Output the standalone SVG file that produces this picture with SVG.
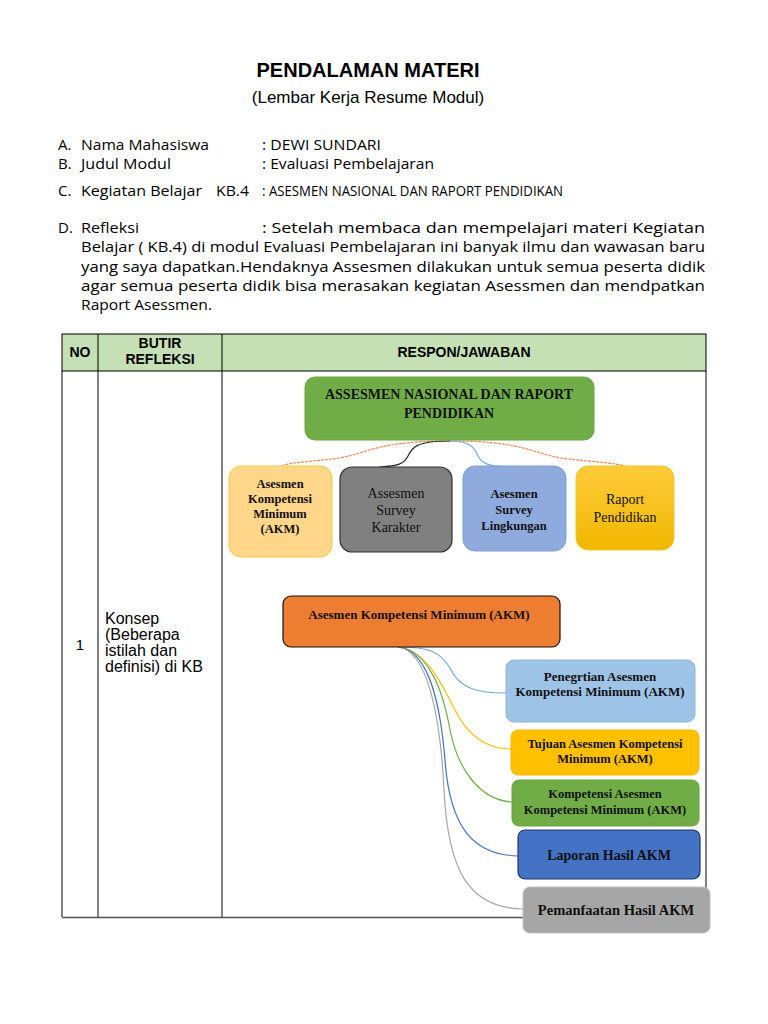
<svg xmlns="http://www.w3.org/2000/svg" width="768" height="1024" viewBox="0 0 768 1024">
<defs>
<style>
.t{font-family:"Liberation Sans",Arial,sans-serif;fill:#000}
.b{font-family:"Open Sans","Liberation Sans",sans-serif;fill:#000;font-size:15px}
.s{font-family:"Liberation Serif","Times New Roman",serif;font-weight:bold;fill:#111;text-anchor:middle}
.n{font-weight:normal}
.h{font-family:"Liberation Sans",Arial,sans-serif;font-weight:bold;font-size:14px;text-anchor:middle}
.c{fill:none;stroke-width:1.2}
</style>
<linearGradient id="gy" x1="0" y1="0" x2="0" y2="1"><stop offset="0" stop-color="#FFCB3A"/><stop offset="1" stop-color="#F0B800"/></linearGradient>
</defs>
<rect width="768" height="1024" fill="#fff"/>
<text class="t" x="368" y="77" font-size="20" font-weight="bold" text-anchor="middle">PENDALAMAN MATERI</text>
<text class="t" x="368" y="103" font-size="17" text-anchor="middle">(Lembar Kerja Resume Modul)</text>

<text class="b" x="58" y="150">A.</text><text class="b" x="81" y="150" textLength="128" lengthAdjust="spacingAndGlyphs">Nama Mahasiswa</text><text class="b" x="262" y="150" textLength="119" lengthAdjust="spacingAndGlyphs">: DEWI SUNDARI</text>
<text class="b" x="58" y="169">B.</text><text class="b" x="81" y="169" textLength="90" lengthAdjust="spacingAndGlyphs">Judul Modul</text><text class="b" x="262" y="169" textLength="172" lengthAdjust="spacingAndGlyphs">: Evaluasi Pembelajaran</text>
<text class="b" x="58" y="196">C.</text><text class="b" x="81" y="196" textLength="121" lengthAdjust="spacingAndGlyphs">Kegiatan Belajar</text><text class="b" x="216" y="196" textLength="33" lengthAdjust="spacingAndGlyphs">KB.4</text><text class="b" x="262" y="196" font-size="12.5" textLength="301" lengthAdjust="spacingAndGlyphs">: ASESMEN NASIONAL DAN RAPORT PENDIDIKAN</text>
<text class="b" x="58" y="233">D.</text><text class="b" x="81" y="233" textLength="58" lengthAdjust="spacingAndGlyphs">Refleksi</text>
<text class="b" x="262" y="233" textLength="443" lengthAdjust="spacingAndGlyphs">: Setelah membaca dan mempelajari materi Kegiatan</text>
<text class="b" x="81" y="252" textLength="624" lengthAdjust="spacingAndGlyphs">Belajar ( KB.4) di modul Evaluasi Pembelajaran ini banyak ilmu dan wawasan baru</text>
<text class="b" x="81" y="272" textLength="624" lengthAdjust="spacingAndGlyphs">yang saya dapatkan.Hendaknya Assesmen dilakukan untuk semua peserta didik</text>
<text class="b" x="81" y="291" textLength="624" lengthAdjust="spacingAndGlyphs">agar semua peserta didik bisa merasakan kegiatan Asessmen dan mendpatkan</text>
<text class="b" x="81" y="310" textLength="131" lengthAdjust="spacingAndGlyphs">Raport Asessmen.</text>

<g id="table">
<rect x="62" y="334" width="644" height="37" fill="#C5E0B4" stroke="#000" stroke-width="1"/>
<line x1="62" y1="371" x2="62" y2="917" stroke="#000"/>
<line x1="98" y1="334" x2="98" y2="917" stroke="#000"/>
<line x1="222" y1="334" x2="222" y2="917" stroke="#000"/>
<line x1="706" y1="371" x2="706" y2="917" stroke="#000"/>
<line x1="62" y1="917.5" x2="706" y2="917.5" stroke="#555" stroke-width="1.5"/>
<text class="h" x="80" y="357">NO</text>
<text class="h" x="160" y="348">BUTIR</text>
<text class="h" x="160" y="364">REFLEKSI</text>
<text class="h" x="464" y="357">RESPON/JAWABAN</text>
<text class="t" x="80" y="650" font-size="15" text-anchor="middle">1</text>
<text class="t" x="105" y="624" font-size="16">Konsep</text>
<text class="t" x="105" y="640" font-size="16">(Beberapa</text>
<text class="t" x="105" y="656" font-size="16">istilah dan</text>
<text class="t" x="105" y="672" font-size="16">definisi) di KB</text>
</g>

<g id="connectors">
<path class="c" d="M450,441 C380,441 370,452 340,458 C310,462 290,462 282,466" stroke="#F4874B" stroke-dasharray="3,1"/>
<path class="c" d="M450,441 C520,441 530,452 560,458 C590,462 610,462 625,466" stroke="#F4874B" stroke-dasharray="3,1"/>
<path class="c" d="M450,441 C415,441 412,448 408,456 C404,464 398,466 380,467" stroke="#222"/>
<path class="c" d="M450,441 C470,441 475,448 478,456 C482,464 490,466 505,467" stroke="#6FA8DC"/>
<path class="c" d="M398,647 C430,647 440,652 450,668 C460,690 480,693 506,693" stroke="#6FA8DC" stroke-width="1"/>
<path class="c" d="M398,647 C425,650 440,680 455,710 C470,740 490,749 511,749" stroke="#FFC000"/>
<path class="c" d="M398,647 C428,650 443,690 450,730 C458,770 480,800 512,802" stroke="#70AD47"/>
<path class="c" d="M398,647 C428,650 440,700 445,760 C450,830 475,855 518,856" stroke="#4472C4"/>
<path class="c" d="M398,647 C426,650 440,710 444,790 C448,870 468,908 523,909" stroke="#A6A6A6" stroke-width="1.8"/>
</g>

<g id="n_root"><rect x="305" y="377" width="289" height="63" rx="10" fill="#70AD47" stroke="#6BA644"/>
<text class="s" x="449" y="399" font-size="14">ASSESMEN NASIONAL DAN RAPORT</text>
<text class="s" x="449" y="418" font-size="14">PENDIDIKAN</text></g>

<g id="n_akm1"><rect x="229" y="466" width="103" height="91" rx="12" fill="#FFD68A" stroke="#FFC940"/>
<text class="s" x="280" y="488" font-size="12.5">Asesmen</text>
<text class="s" x="280" y="503" font-size="12.5">Kompetensi</text>
<text class="s" x="280" y="518" font-size="12.5">Minimum</text>
<text class="s" x="280" y="533" font-size="12.5">(AKM)</text></g>

<g id="n_karakter"><rect x="340" y="467" width="112" height="85" rx="12" fill="#808080" stroke="#333" stroke-width="1.2"/>
<text class="s n" x="396" y="498" font-size="14" fill="#262626">Assesmen</text>
<text class="s n" x="396" y="515" font-size="14" fill="#262626">Survey</text>
<text class="s n" x="396" y="532" font-size="14" fill="#262626">Karakter</text></g>

<g id="n_lingkungan"><rect x="463" y="466" width="103" height="85" rx="12" fill="#8FAADC" stroke="#7F9FD8"/>
<text class="s" x="514" y="498" font-size="12.5">Asesmen</text>
<text class="s" x="514" y="514" font-size="12.5">Survey</text>
<text class="s" x="514" y="530" font-size="12.5">Lingkungan</text></g>

<g id="n_raport"><rect x="576" y="466" width="98" height="84" rx="12" fill="url(#gy)" stroke="#F5C530"/>
<text class="s n" x="625" y="504" font-size="14">Raport</text>
<text class="s n" x="625" y="522" font-size="14">Pendidikan</text></g>

<g id="n_akm"><rect x="283" y="596" width="277" height="51" rx="8" fill="#ED7D31" stroke="#111" stroke-width="1.2"/>
<text class="s" x="419" y="619" font-size="13">Asesmen Kompetensi Minimum (AKM)</text></g>

<g id="n_pengertian"><rect x="506" y="660" width="189" height="62" rx="8" fill="#9DC3E6" stroke="#8DB5E0"/>
<text class="s" x="600" y="681" font-size="13">Penegrtian Asesmen</text>
<text class="s" x="600" y="696" font-size="13">Kompetensi Minimum (AKM)</text></g>

<g id="n_tujuan"><rect x="511" y="730" width="188" height="45" rx="7" fill="#FFC000" stroke="#F5BA00"/>
<text class="s" x="605" y="748" font-size="12.5">Tujuan Asesmen Kompetensi</text>
<text class="s" x="605" y="763" font-size="12.5">Minimum (AKM)</text></g>

<g id="n_kompetensi"><rect x="512" y="780" width="187" height="46" rx="7" fill="#70AD47" stroke="#66A33E"/>
<text class="s" x="605" y="798" font-size="12.5">Kompetensi Asesmen</text>
<text class="s" x="605" y="814" font-size="12.5">Kompetensi Minimum (AKM)</text></g>

<g id="n_laporan"><rect x="518" y="830" width="182" height="49" rx="7" fill="#4472C4" stroke="#1F3864" stroke-width="1.2"/>
<text class="s" x="609" y="860" font-size="14">Laporan Hasil AKM</text></g>

<g id="n_pemanfaatan"><rect x="523" y="887" width="187" height="46" rx="7" fill="#A6A6A6" stroke="#BFBFBF"/>
<text class="s" x="616" y="915" font-size="14.5">Pemanfaatan  Hasil AKM</text></g>
</svg>
